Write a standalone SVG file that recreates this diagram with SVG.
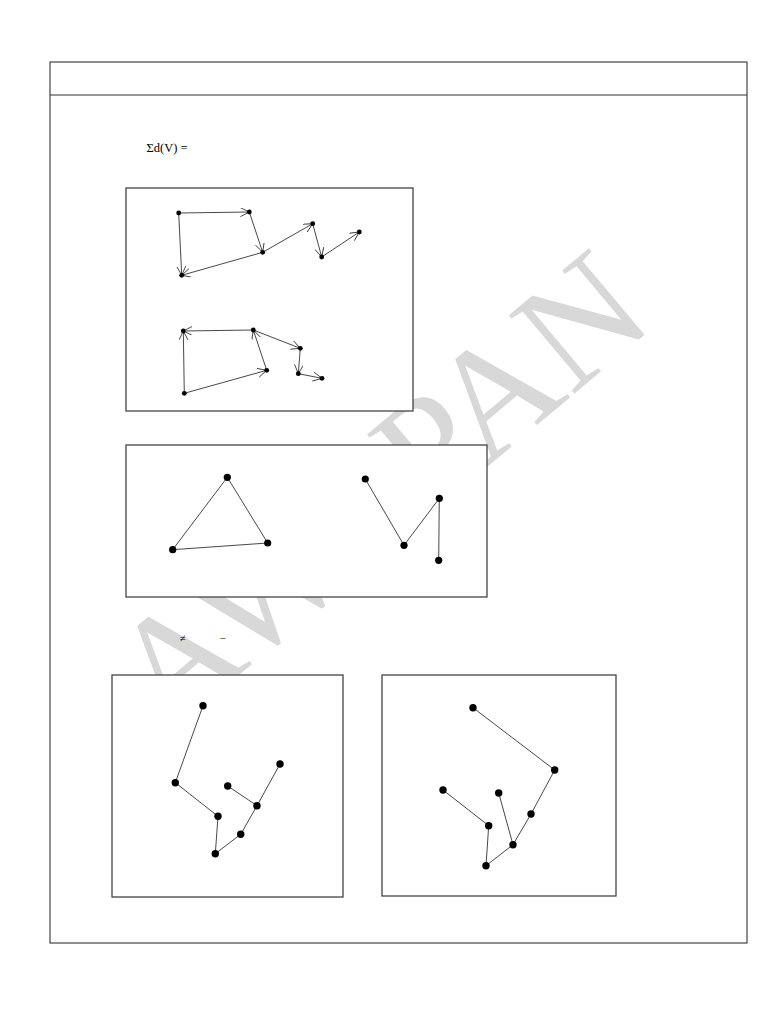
<svg xmlns="http://www.w3.org/2000/svg" width="768" height="1024" viewBox="0 0 768 1024">
<style>
.frame{fill:none;stroke:#333;stroke-width:1.1}
.box{fill:#fff;stroke:#444;stroke-width:1.3}
.e{stroke:#333;stroke-width:0.9;fill:none}
.a{stroke:#333;stroke-width:0.9;fill:none;marker-end:url(#arr)}
.n1{fill:#000}
.t{font-family:"Liberation Serif","Times New Roman",serif;fill:#000}
.wm{font-family:"Liberation Serif","Times New Roman",serif;fill:#d8d8d8;font-size:156px}
</style>
<defs>
<marker id="arr" markerUnits="userSpaceOnUse" markerWidth="12" markerHeight="12" refX="9" refY="4.5" orient="auto">
<path d="M0,0 L9,4.5 L0,9" fill="none" stroke="#222" stroke-width="0.8"/>
</marker>
</defs>
<rect width="768" height="1024" fill="#fff"/>
<g id="frame">
<rect class="frame" x="50" y="62" width="697" height="881"/>
<line class="frame" x1="50" y1="95" x2="747" y2="95"/>
</g>
<g id="watermark">
<text class="wm" x="412" y="530" text-anchor="middle" transform="rotate(-40 412 530)">AWAPAN</text>
</g>
<g id="labels">
<text class="t" x="146.5" y="152" font-size="12.5">Σd(V) =</text>
<text class="t" x="179.5" y="642" font-size="11">≠</text>
<text class="t" x="219.5" y="642" font-size="11">−</text>
</g>
<g id="box1">
<rect class="box" x="126" y="188" width="287" height="223"/>
</g>
<g id="box2">
<rect class="box" x="126" y="445" width="361" height="152"/>
</g>
<g id="box3">
<rect class="box" x="112" y="675" width="231" height="222"/>
</g>
<g id="box4">
<rect class="box" x="382" y="675" width="234" height="221"/>
</g>
<g id="connectors">
<line class="a" x1="178.7" y1="213" x2="249.3" y2="212"/>
<line class="a" x1="249.3" y1="212" x2="262.7" y2="252.3"/>
<line class="a" x1="178.7" y1="213" x2="181.7" y2="275.3"/>
<line class="a" x1="262.7" y1="252.3" x2="181.7" y2="275.3"/>
<line class="a" x1="262.7" y1="252.3" x2="312.7" y2="223.7"/>
<line class="a" x1="312.7" y1="223.7" x2="321.7" y2="257"/>
<line class="a" x1="321.7" y1="257" x2="359.3" y2="232"/>
<line class="a" x1="253.3" y1="330" x2="183.3" y2="331"/>
<line class="a" x1="184.3" y1="393.3" x2="183.3" y2="331"/>
<line class="a" x1="184.3" y1="393.3" x2="266.7" y2="370.3"/>
<line class="a" x1="266.7" y1="370.3" x2="253.3" y2="330"/>
<line class="a" x1="253.3" y1="330" x2="300.3" y2="348.3"/>
<line class="a" x1="300.3" y1="348.3" x2="298.3" y2="373.7"/>
<line class="a" x1="298.3" y1="373.7" x2="322" y2="378.3"/>
<line class="e" x1="227.3" y1="477.3" x2="172.7" y2="549.7"/>
<line class="e" x1="227.3" y1="477.3" x2="267.7" y2="543"/>
<line class="e" x1="172.7" y1="549.7" x2="267.7" y2="543"/>
<line class="e" x1="365.3" y1="479" x2="404" y2="545.3"/>
<line class="e" x1="404" y1="545.3" x2="439.3" y2="498.3"/>
<line class="e" x1="439.3" y1="498.3" x2="438.7" y2="560.3"/>
<polyline class="e" points="203,705.7 175.3,782.7 218,816.3 215.3,853.7 240.7,834.3 257,805.7 227.7,786"/>
<line class="e" x1="257" y1="805.7" x2="280" y2="764"/>
<polyline class="e" points="473,707.7 554.7,770 531,814 513,844.7 486,865.7 488.7,825.7 443,790"/>
<line class="e" x1="513" y1="844.7" x2="498.7" y2="793"/>
</g>
<g id="nodes-box1">
<circle class="n1" cx="178.7" cy="213" r="2.4"/>
<circle class="n1" cx="249.3" cy="212" r="2.4"/>
<circle class="n1" cx="262.7" cy="252.3" r="2.4"/>
<circle class="n1" cx="181.7" cy="275.3" r="2.4"/>
<circle class="n1" cx="312.7" cy="223.7" r="2.4"/>
<circle class="n1" cx="321.7" cy="257" r="2.4"/>
<circle class="n1" cx="359.3" cy="232" r="2.4"/>
<circle class="n1" cx="183.3" cy="331" r="2.4"/>
<circle class="n1" cx="253.3" cy="330" r="2.4"/>
<circle class="n1" cx="266.7" cy="370.3" r="2.4"/>
<circle class="n1" cx="184.3" cy="393.3" r="2.4"/>
<circle class="n1" cx="300.3" cy="348.3" r="2.4"/>
<circle class="n1" cx="298.3" cy="373.7" r="2.4"/>
<circle class="n1" cx="322" cy="378.3" r="2.4"/>
</g>
<g id="nodes-box2">
<circle class="n1" cx="227.3" cy="477.3" r="3.6"/>
<circle class="n1" cx="172.7" cy="549.7" r="3.6"/>
<circle class="n1" cx="267.7" cy="543" r="3.6"/>
<circle class="n1" cx="365.3" cy="479" r="3.6"/>
<circle class="n1" cx="404" cy="545.3" r="3.6"/>
<circle class="n1" cx="439.3" cy="498.3" r="3.6"/>
<circle class="n1" cx="438.7" cy="560.3" r="3.6"/>
</g>
<g id="nodes-box3">
<circle class="n1" cx="203" cy="705.7" r="3.7"/>
<circle class="n1" cx="175.3" cy="782.7" r="3.7"/>
<circle class="n1" cx="218" cy="816.3" r="3.7"/>
<circle class="n1" cx="215.3" cy="853.7" r="3.7"/>
<circle class="n1" cx="240.7" cy="834.3" r="3.7"/>
<circle class="n1" cx="257" cy="805.7" r="3.7"/>
<circle class="n1" cx="227.7" cy="786" r="3.7"/>
<circle class="n1" cx="280" cy="764" r="3.7"/>
</g>
<g id="nodes-box4">
<circle class="n1" cx="473" cy="707.7" r="3.7"/>
<circle class="n1" cx="554.7" cy="770" r="3.7"/>
<circle class="n1" cx="531" cy="814" r="3.7"/>
<circle class="n1" cx="513" cy="844.7" r="3.7"/>
<circle class="n1" cx="486" cy="865.7" r="3.7"/>
<circle class="n1" cx="488.7" cy="825.7" r="3.7"/>
<circle class="n1" cx="443" cy="790" r="3.7"/>
<circle class="n1" cx="498.7" cy="793" r="3.7"/>
</g>
</svg>
